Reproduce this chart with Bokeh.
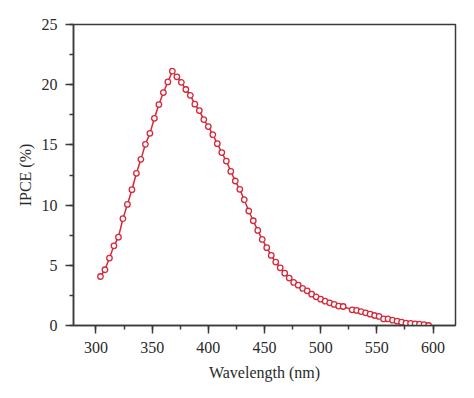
from bokeh.plotting import figure
from bokeh.models import Range1d, SingleIntervalTicker
from bokeh.embed import file_html
from bokeh.resources import INLINE

wavelength = [304, 308, 312, 316, 320, 324, 328, 332, 336, 340, 344, 348, 352, 356, 360, 364,
              368, 372, 376, 380, 384, 388, 392, 396, 400, 404, 408, 412, 416, 420, 424, 428,
              432, 436, 440, 444, 448, 452, 456, 460, 464, 468, 472, 476, 480, 484, 488, 492,
              496, 500, 504, 508, 512, 516, 520, 528, 532, 536, 540, 544, 548, 552, 556, 560,
              564, 568, 572, 576, 580, 584, 588, 592, 596]
ipce = [4.07, 4.63, 5.6, 6.62, 7.34, 8.87, 10.06, 11.28, 12.64, 13.8, 15.05, 15.96, 17.21, 18.35, 19.35, 20.23,
        21.12, 20.65, 20.2, 19.6, 19.12, 18.38, 17.85, 17.1, 16.52, 15.85, 15.1, 14.36, 13.66, 12.8, 12.0, 11.31,
        10.45, 9.51, 8.7, 7.9, 7.15, 6.46, 5.82, 5.27, 4.79, 4.35, 3.94, 3.58, 3.35, 3.08, 2.88, 2.6,
        2.38, 2.19, 2.02, 1.88, 1.75, 1.61, 1.58, 1.3, 1.25, 1.16, 1.05, 0.94, 0.83, 0.75, 0.55, 0.55,
        0.44, 0.36, 0.28, 0.19, 0.17, 0.14, 0.11, 0.08, 0.0]

x_label = "Wavelength (nm)"
y_label = "IPCE (%)"

RED = "#d62839"
AX = "#3a3a3a"
TXT = "#2a2a2a"
FONT = "Liberation Serif"

p = figure(width=466, height=390, output_backend="svg", toolbar_location=None,
           x_range=Range1d(280, 620), y_range=Range1d(0, 25))
p.min_border_left = 73
p.min_border_right = 11
p.min_border_top = 24
p.min_border_bottom = 65

p.grid.visible = False
p.outline_line_color = AX
p.outline_line_width = 1.5

p.xaxis.ticker = SingleIntervalTicker(interval=50, num_minor_ticks=2)
p.yaxis.ticker = SingleIntervalTicker(interval=5, num_minor_ticks=2)

for ax in (p.xaxis, p.yaxis):
    ax.axis_line_color = AX
    ax.axis_line_width = 1.5
    ax.major_tick_line_color = AX
    ax.major_tick_line_width = 1.5
    ax.minor_tick_line_color = AX
    ax.minor_tick_line_width = 1.5
    ax.major_tick_out = 8
    ax.major_tick_in = 0
    ax.minor_tick_out = 4
    ax.minor_tick_in = 0
    ax.major_label_text_font = FONT
    ax.major_label_text_font_size = "16px"
    ax.major_label_text_color = TXT
    ax.axis_label_text_font = FONT
    ax.axis_label_text_font_size = "16px"
    ax.axis_label_text_font_style = "normal"
    ax.axis_label_text_color = TXT
    ax.major_label_standoff = 8

p.xaxis.axis_label = x_label
p.yaxis.axis_label = y_label
p.xaxis.axis_label_standoff = 8
p.yaxis.axis_label_standoff = 5

p.line(wavelength, ipce, line_color=RED, line_width=1.5)
p.scatter(wavelength, ipce, marker="circle", size=5.5, fill_color="white",
          line_color=RED, line_width=1.3)

open("out.html", "w").write(file_html(p, INLINE))
